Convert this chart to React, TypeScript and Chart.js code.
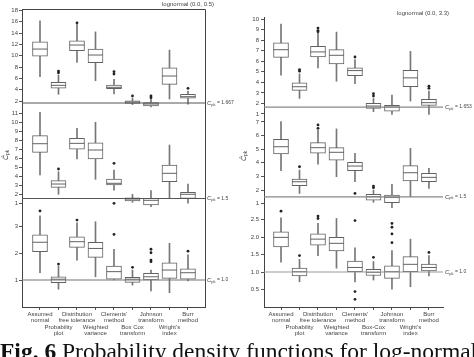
import React, { useEffect, useRef } from "react";
import { Chart, registerables } from "chart.js";
Chart.register(...registerables);

const FONT = "'Liberation Sans', Arial, sans-serif";

// categories (two text lines each)
const categoriesLeft: string[][] = [
  ["Assumed", "normal"], ["Probability", "plot"], ["Distribution", "free tolerance"],
  ["Weighted", "variance"], ["Clements'", "method"], ["Box Cox", "transform"],
  ["Johnson", "transform"], ["Wright's", "index"], ["Burr", "method"],
];
const categoriesRight: string[][] = [
  ["Assumed", "normal"], ["Probability", "plot"], ["Distribution", "free tolerance"],
  ["Weighted", "variance"], ["Clements'", "method"], ["Box-Cox", "transform"],
  ["Johnson", "transform"], ["Wright's", "index"], ["Burr", "method"],
];

// ---- left column: lognormal (0.0, 0.5)
const ltMin = [6.3, 3.2, 8.83, 5.59, 3.25, 1.4, 0.96, 2.37, 1.44];
const ltQ1 = [9.94, 4.26, 10.87, 8.76, 4.19, 1.61, 1.14, 4.96, 2.5];
const ltMed = [11.17, 4.78, 11.88, 10.12, 4.43, 1.84, 1.49, 6.42, 2.78];
const ltQ3 = [12.46, 5.31, 12.64, 11.17, 4.84, 2.07, 1.72, 7.88, 3.2];
const ltMax = [16.16, 6.6, 15.6, 14.2, 5.84, 2.5, 2.37, 10.99, 3.78];
const ltOut = [[], [7.3, 7.0], [15.8], [], [7.18, 6.77], [2.9], [2.9, 2.6], [], [4.25]];

const lmMin = [4.11, 1.97, 5.89, 3.63, 2.44, 1.08, 0.59, 1.52, 0.97];
const lmQ1 = [6.63, 2.74, 6.97, 5.89, 3.0, 1.22, 0.78, 3.37, 1.52];
const lmMed = [7.59, 3.11, 7.63, 6.89, 3.19, 1.44, 1.3, 4.3, 1.97];
const lmQ3 = [8.48, 3.48, 8.19, 7.7, 3.67, 1.59, 1.52, 5.22, 2.19];
const lmMax = [11.08, 4.48, 9.3, 9.97, 4.67, 1.97, 2.37, 7.44, 3.11];
const lmOut = [[], [4.78], [], [], [5.41, 0.97], [], [], [], []];

const lbMin = [1.27, 0.66, 1.74, 1.12, 1.0, 0.81, 0.6, 0.53, 0.97];
const lbQ1 = [2.05, 0.9, 2.21, 1.84, 1.03, 0.91, 1.0, 1.06, 1.03];
const lbMed = [2.4, 1.03, 2.42, 2.17, 1.31, 1.03, 1.12, 1.37, 1.27];
const lbQ3 = [2.67, 1.12, 2.6, 2.4, 1.52, 1.1, 1.25, 1.64, 1.41];
const lbMax = [3.38, 1.52, 3.12, 3.16, 2.14, 1.37, 1.37, 2.36, 1.93];
const lbOut = [[3.56], [1.59], [3.22], [], [2.69], [1.47], [2.14, 2.01, 1.74, 1.68], [], [2.07]];

// ---- right column: lognormal (0.0, 3.3)
const rtMin = [4.67, 2.47, 5.36, 4.1, 3.86, 1.22, 0.96, 2.22, 0.96];
const rtQ1 = [6.37, 3.23, 6.4, 5.74, 4.64, 1.53, 1.27, 3.58, 1.81];
const rtMed = [7.09, 3.58, 6.88, 6.56, 5.11, 1.75, 1.65, 4.42, 2.07];
const rtQ3 = [7.73, 3.95, 7.41, 7.09, 5.36, 2.0, 1.81, 5.14, 2.38];
const rtMax = [9.52, 4.8, 8.67, 8.76, 6.15, 2.47, 2.78, 6.93, 3.16];
const rtOut = [[], [5.2, 5.05], [9.14, 8.9, 8.8], [], [6.4], [2.92, 2.7], [], [], [3.63, 3.43]];

const rmMin = [3.42, 1.75, 3.89, 2.98, 2.61, 1.1, 0.7, 1.51, 2.12];
const rmQ1 = [4.65, 2.32, 4.7, 4.2, 3.42, 1.26, 1.07, 2.66, 2.61];
const rmMed = [5.18, 2.61, 5.11, 4.77, 3.76, 1.51, 1.46, 3.27, 2.93];
const rmQ3 = [5.73, 2.81, 5.48, 5.11, 4.03, 1.68, 1.63, 3.79, 3.23];
const rmMax = [7.02, 3.47, 6.41, 6.49, 4.7, 2.0, 2.42, 5.06, 3.6];
const rmOut = [[], [3.71], [6.78, 6.53], [], [1.75], [2.29, 2.17], [], [], []];

const rbMin = [1.28, 0.72, 1.47, 1.11, 0.72, 0.77, 0.51, 0.58, 0.89];
const rbQ1 = [1.72, 0.89, 1.77, 1.6, 1.01, 0.9, 0.82, 1.01, 1.03];
const rbMed = [1.99, 1.01, 1.94, 1.82, 1.13, 0.99, 1.01, 1.22, 1.13];
const rbQ3 = [2.15, 1.11, 2.09, 1.99, 1.31, 1.08, 1.18, 1.44, 1.23];
const rbMax = [2.55, 1.36, 2.39, 2.53, 1.69, 1.3, 1.61, 1.94, 1.47];
const rbOut = [[2.74], [1.47], [2.6, 2.53], [], [2.47, 0.44, 0.22], [1.42], [2.39, 2.28, 2.09, 1.84], [], [1.56]];

// axis ticks
const ltTicks = [2, 4, 6, 8, 10, 12, 14, 16, 18];
const lmTicks = [1, 2, 3, 4, 5, 6, 7, 8, 9, 10, 11];
const lbTicks = [1, 2, 3];
const rtTicks = [1, 2, 3, 4, 5, 6, 7, 8, 9, 10];
const rmTicks = [1, 2, 3, 4, 5, 6, 7];
const rbTicks = [0.5, 1.0, 1.5, 2.0, 2.5];

const leftThresholds = [1.667, 1.5, 1.0];
const rightThresholds = [1.653, 1.5, 1.0];
const leftThresholdLabels = ["1.667", "1.5", "1.0"];
const rightThresholdLabels = ["1.653", "1.5", "1.0"];

const leftTitle = "lognormal (0.0, 0.5)";
const rightTitle = "lognormal (0.0, 3.3)";
const captionBold = "Fig. 6";
const captionText = " Probability density functions for log-normal";

type Panel = {
  id: string; min: number; max: number; weight: number; ticks: number[]; dec: number;
  lo: number[]; q1: number[]; med: number[]; q3: number[]; hi: number[]; out: number[][];
  threshold: number; thLabel: string; thColor: string;
};

type Side = {
  categories: string[][]; xMin: number; xMax: number; axisWidth: number; tickPad: number;
  padTop: number; padRight: number; panels: Panel[]; title: string; titleX: number; titleY: number;
  frame: boolean; yTitleX: number; yTitleY: number;
};

const BOX = "#626262";
const WHISK = "#777777";

function panelDatasets(p: Panel): any[] {
  const idx = p.med.map((_, i) => i);
  return [
    {
      type: "bar", xAxisID: "x", yAxisID: p.id, grouped: false, order: 3, clip: false,
      data: idx.map((i) => ({ x: i, y: [p.lo[i], p.hi[i]] })),
      backgroundColor: WHISK, borderWidth: 0, barThickness: 1,
    },
    {
      type: "bar", xAxisID: "x", yAxisID: p.id, grouped: false, order: 2, clip: false,
      data: idx.map((i) => ({ x: i, y: [p.q1[i], p.q3[i]] })),
      backgroundColor: "#ffffff", borderColor: BOX, borderWidth: 1, borderSkipped: false, barThickness: 15,
    },
    {
      type: "scatter", xAxisID: "x", yAxisID: p.id, order: 1, clip: false,
      data: idx.map((i) => ({ x: i, y: p.med[i] })),
      pointStyle: "line", pointRadius: 7.5, pointBorderColor: BOX, pointBorderWidth: 1, pointBackgroundColor: BOX,
    },
    {
      type: "scatter", xAxisID: "x", yAxisID: p.id, order: 0, clip: false,
      data: p.out.flatMap((arr, i) => arr.map((v) => ({ x: i, y: v }))),
      pointStyle: "circle", pointRadius: 1.4, pointBackgroundColor: "#222", pointBorderWidth: 0,
    },
  ];
}

function makeConfig(side: Side): any {
  const scales: any = {
    x: {
      type: "linear", min: side.xMin, max: side.xMax, offset: false, position: "bottom",
      afterBuildTicks: (s: any) => { s.ticks = side.categories.map((_, i) => ({ value: i })); },
      afterFit: (s: any) => { s.height = 33; },
      ticks: {
        autoSkip: false, maxRotation: 0, minRotation: 0, padding: 1, color: "#444",
        font: { size: 6, family: FONT, lineHeight: 1.08 },
        callback: (v: number) => {
          const i = Math.round(v);
          const l = side.categories[i] || [];
          return i % 2 ? ["", "", ...l] : l;
        },
      },
      grid: { display: true, drawOnChartArea: false, drawTicks: true, tickLength: 3, color: "#555", offset: false },
      border: { display: true, color: "#444", width: 1 },
    },
  };
  side.panels.forEach((p, k) => {
    scales[p.id] = {
      type: "linear", position: "left", stack: "col", stackWeight: p.weight, weight: 3 - k,
      min: p.min, max: p.max, offset: false,
      afterBuildTicks: (s: any) => { s.ticks = p.ticks.map((v) => ({ value: v })); },
      afterFit: (s: any) => { s.width = side.axisWidth; },
      ticks: {
        autoSkip: false, padding: side.tickPad, color: "#444", font: { size: 6, family: FONT },
        callback: (v: number) => v.toFixed(p.dec),
      },
      grid: { display: true, drawOnChartArea: false, drawTicks: true, tickLength: 3, color: "#555" },
      border: { display: true, color: "#444", width: 1 },
    };
  });

  const overlay = {
    id: "overlay",
    afterDatasetsDraw(chart: any) {
      const ctx = chart.ctx;
      const a = chart.chartArea;
      ctx.save();
      if (side.frame) {
        ctx.strokeStyle = "#444";
        ctx.lineWidth = 1;
        ctx.beginPath();
        ctx.moveTo(a.left, a.top + 0.5);
        ctx.lineTo(a.right + 0.5, a.top + 0.5);
        ctx.lineTo(a.right + 0.5, a.bottom);
        ctx.stroke();
      }
      side.panels.forEach((p) => {
        const y = chart.scales[p.id].getPixelForValue(p.threshold);
        ctx.strokeStyle = p.thColor;
        ctx.lineWidth = 1.2;
        ctx.beginPath();
        ctx.moveTo(a.left, y);
        ctx.lineTo(a.right, y);
        ctx.stroke();
        // label C_pk = value
        ctx.fillStyle = "#444";
        ctx.textBaseline = "middle";
        ctx.textAlign = "left";
        let x = a.right + 2;
        ctx.font = `italic 6px ${FONT}`;
        ctx.fillText("C", x, y);
        x += ctx.measureText("C").width;
        ctx.font = `4px ${FONT}`;
        ctx.fillText("pk", x, y + 1.5);
        x += ctx.measureText("pk").width;
        ctx.font = `5px ${FONT}`;
        ctx.fillText(" = " + p.thLabel, x, y);
      });
      // title
      ctx.font = `6px ${FONT}`;
      ctx.fillStyle = "#444";
      ctx.textAlign = "left";
      ctx.textBaseline = "middle";
      ctx.fillText(side.title, side.titleX, side.titleY);
      // y title
      ctx.translate(side.yTitleX, side.yTitleY);
      ctx.rotate(-Math.PI / 2);
      ctx.textAlign = "left";
      ctx.font = `italic 7px ${FONT}`;
      ctx.fillText("\u0108", -6, 0);
      const w = ctx.measureText("\u0108").width;
      ctx.font = `5px ${FONT}`;
      ctx.fillText("pk", -6 + w, 2);
      ctx.restore();
    },
  };

  return {
    type: "bar",
    data: { datasets: side.panels.flatMap((p) => panelDatasets(p)) },
    options: {
      responsive: false, animation: false, devicePixelRatio: 1, events: [],
      layout: { padding: { left: 0, top: side.padTop, right: side.padRight, bottom: 0 } },
      plugins: { legend: { display: false }, tooltip: { enabled: false }, title: { display: false } },
      scales,
    },
    plugins: [overlay],
  };
}

const leftSide: Side = {
  categories: categoriesLeft, xMin: -0.973, xMax: 8.92, axisWidth: 22, tickPad: 1,
  padTop: 9, padRight: 32, title: leftTitle, titleX: 162, titleY: 4, frame: true, yTitleX: 6, yTitleY: 154,
  panels: [
    { id: "yT", min: 1.315, max: 18.23, weight: 96, ticks: ltTicks, dec: 0, lo: ltMin, q1: ltQ1, med: ltMed, q3: ltQ3, hi: ltMax, out: ltOut, threshold: leftThresholds[0], thLabel: leftThresholdLabels[0], thColor: "#555" },
    { id: "yM", min: 0.78, max: 11.89, weight: 100, ticks: lmTicks, dec: 0, lo: lmMin, q1: lmQ1, med: lmMed, q3: lmQ3, hi: lmMax, out: lmOut, threshold: leftThresholds[1], thLabel: leftThresholdLabels[1], thColor: "#555" },
    { id: "yB", min: 0, max: 3.78, weight: 102, ticks: lbTicks, dec: 0, lo: lbMin, q1: lbQ1, med: lbMed, q3: lbQ3, hi: lbMax, out: lbOut, threshold: leftThresholds[2], thLabel: leftThresholdLabels[2], thColor: "#777" },
  ],
};

const rightSide: Side = {
  categories: categoriesRight, xMin: -0.92, xMax: 8.76, axisWidth: 27, tickPad: 2,
  padTop: 17, padRight: 31, title: rightTitle, titleX: 160, titleY: 13, frame: false, yTitleX: 7, yTitleY: 155,
  panels: [
    { id: "yT", min: 0.9, max: 10.19, weight: 98, ticks: rtTicks, dec: 0, lo: rtMin, q1: rtQ1, med: rtMed, q3: rtQ3, hi: rtMax, out: rtOut, threshold: rightThresholds[0], thLabel: rightThresholdLabels[0], thColor: "#888" },
    { id: "yM", min: 0.68, max: 7.51, weight: 93, ticks: rmTicks, dec: 0, lo: rmMin, q1: rmQ1, med: rmMed, q3: rmQ3, hi: rmMax, out: rmOut, threshold: rightThresholds[1], thLabel: rightThresholdLabels[1], thColor: "#888" },
    { id: "yB", min: 0, max: 2.83, weight: 99, ticks: rbTicks, dec: 1, lo: rbMin, q1: rbQ1, med: rbMed, q3: rbQ3, hi: rbMax, out: rbOut, threshold: rightThresholds[2], thLabel: rightThresholdLabels[2], thColor: "#999" },
  ],
};

function BoxChart({ side, left }: { side: Side; left: number }) {
  const ref = useRef<HTMLCanvasElement | null>(null);
  useEffect(() => {
    if (!ref.current) return;
    const chart = new Chart(ref.current, makeConfig(side));
    return () => chart.destroy();
  }, [side]);
  return (
    <canvas
      ref={ref}
      width={237}
      height={340}
      style={{ position: "absolute", left, top: 0, width: 237, height: 340 }}
    />
  );
}

export default function App() {
  return (
    <div style={{ position: "absolute", left: 0, top: 0, width: 474, height: 357, overflow: "hidden", background: "#fff" }}>
      <BoxChart side={leftSide} left={0} />
      <BoxChart side={rightSide} left={237} />
      <div
        style={{
          position: "absolute", left: 0, top: 340, whiteSpace: "nowrap",
          fontFamily: "'Liberation Serif', 'Times New Roman', serif", fontSize: 23.5, lineHeight: "23.5px", color: "#111",
        }}
      >
        <b>{captionBold}</b>{captionText}
      </div>
    </div>
  );
}
